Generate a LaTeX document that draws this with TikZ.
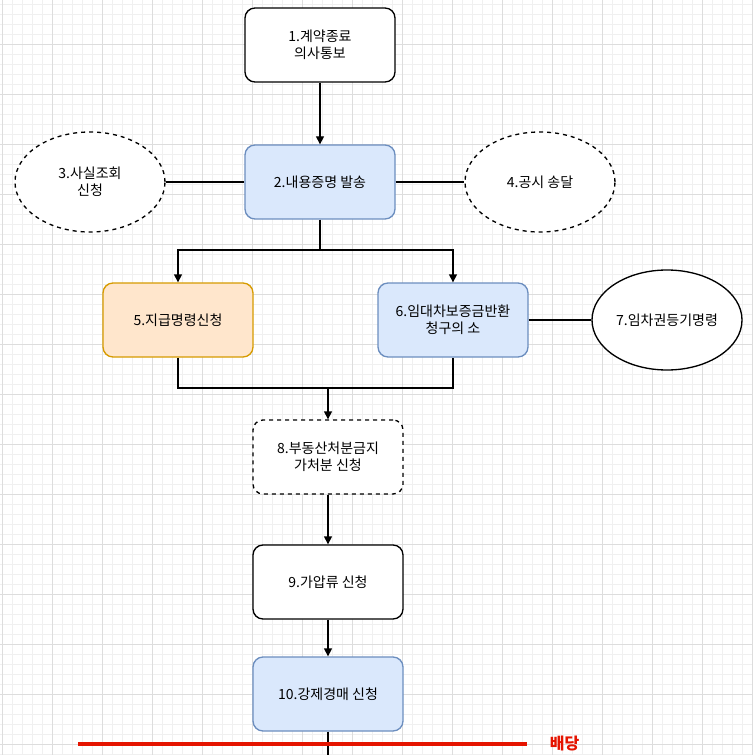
\documentclass[tikz,border=0pt]{standalone}
\usepackage{fontspec}
\setmainfont{Noto Sans CJK KR}
\usetikzlibrary{shapes.geometric,arrows.meta}
\definecolor{bfill}{HTML}{DAE8FC}\definecolor{bline}{HTML}{6C8EBF}
\definecolor{ofill}{HTML}{FFE6CC}\definecolor{oline}{HTML}{D79B00}
\definecolor{gmin}{HTML}{F0F0F0}\definecolor{gmaj}{HTML}{DDDDDD}
\definecolor{redl}{HTML}{E51400}
\tikzset{
 box/.style={draw,line width=1pt,rounded corners=7.5pt,minimum width=112.5pt,minimum height=55.5pt,align=center,font=\fontsize{10.5pt}{13pt}\selectfont,fill=white},
 bluebox/.style={box,fill=bfill,draw=bline},
 orangebox/.style={box,fill=ofill,draw=oline},
 ell/.style={draw,line width=1pt,ellipse,minimum width=112.5pt,minimum height=75pt,align=center,font=\fontsize{10.5pt}{13pt}\selectfont,fill=white,inner sep=0pt},
 conn/.style={line width=1pt},
 arr/.style={conn,-{Triangle[length=6pt,width=6pt]}}
}
\begin{document}
\begin{tikzpicture}[x=0.75pt,y=-0.75pt]
\useasboundingbox (0,0) rectangle (752,755);
\fill[white] (0,0) rectangle (752,755);
\foreach \i in {2,12,...,752} \draw[gmin,line width=0.5pt] (\i,0) -- (\i,755);
\foreach \j in {4,14,...,755} \draw[gmin,line width=0.5pt] (0,\j) -- (752,\j);
\foreach \i in {2,52,...,752} \draw[gmaj,line width=0.6pt] (\i,0) -- (\i,755);
\foreach \j in {44,94,...,755} \draw[gmaj,line width=0.6pt] (0,\j) -- (752,\j);

\node[box] (n1) at (320,45) {1.계약종료\\의사통보};
\node[bluebox] (n2) at (320,182) {2.내용증명 발송};
\node[ell,dashed] (n3) at (90,182) {3.사실조회\\신청};
\node[ell,dashed] (n4) at (540,182) {4.공시 송달};
\node[orangebox] (n5) at (178,320) {5.지급명령신청};
\node[bluebox] (n6) at (453,320) {6.임대차보증금반환\\청구의 소};
\node[ell] (n7) at (667,320) {7.임차권등기명령};
\node[box,dashed] (n8) at (328,457) {8.부동산처분금지\\가처분 신청};
\node[box] (n9) at (328,582) {9.가압류 신청};
\node[bluebox] (n10) at (328,694) {10.강제경매 신청};
\coordinate (s2) at (320,250);
\coordinate (j8) at (328,388);
\coordinate (bot) at (328,755);
\coordinate (rl) at (78,744);
\coordinate (rr) at (527,744);

\draw[arr] (n1) -- (n2);
\draw[conn] (n3) -- (n2);
\draw[conn] (n2) -- (n4);
\draw[conn] (n6) -- (n7);
\draw[conn] (n2.south) -- (s2);
\draw[arr] (s2) -| (n5.north);
\draw[arr] (s2) -| (n6.north);
\draw[conn] (n5.south) |- (j8);
\draw[conn] (n6.south) |- (j8);
\draw[arr] (j8) -- (n8.north);
\draw[arr] (n8) -- (n9);
\draw[arr] (n9) -- (n10);
\draw[conn] (n10) -- (bot);
\draw[redl,line width=3.5pt] (rl) -- (rr) node[right=12pt,text=redl,font=\bfseries\fontsize{12pt}{14pt}\selectfont] (lbl) {배당};
\end{tikzpicture}
\end{document}
